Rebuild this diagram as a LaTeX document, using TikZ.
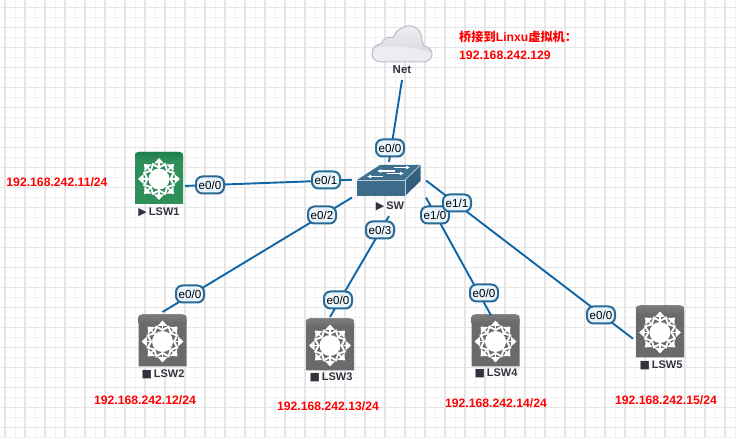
\documentclass[tikz,border=0pt]{standalone}
\usetikzlibrary{arrows.meta}
\usepackage{fontspec}
\setmainfont{Liberation Sans}
\newfontfamily\cjkfam{Noto Sans CJK SC}
\newfontfamily\glyphfam{DejaVu Sans}
\definecolor{linkblue}{HTML}{0F66A6}
\definecolor{portedge}{HTML}{2A6A96}
\definecolor{portfill}{HTML}{E9F5FD}
\definecolor{gridmaj}{HTML}{E6E6E6}
\definecolor{gridmin}{HTML}{F1F1F1}
\definecolor{ipred}{HTML}{FF0000}
\definecolor{labelink}{HTML}{333340}
\definecolor{greenbody}{HTML}{2F8F5B}
\definecolor{greentop}{HTML}{1F7F4C}
\definecolor{greybody}{HTML}{6A6A6A}
\definecolor{greytop}{HTML}{7C7C7C}
\definecolor{swtop}{HTML}{3F6F8F}
\definecolor{swfront}{HTML}{3D6C8A}
\definecolor{swside}{HTML}{335F7C}
\definecolor{swedge}{HTML}{B9CCD8}
\definecolor{cloudedge}{HTML}{BABDC8}
\definecolor{cloudtop}{HTML}{EDEEF1}
\definecolor{cloudmid}{HTML}{D3D5DB}
\definecolor{cloudlow}{HTML}{ECEDF0}
\tikzset{
  link/.style={draw=linkblue,line width=1.9pt},
  portlabel/.style={draw=portedge,line width=2pt,fill=portfill,rounded corners=6.5pt,
    minimum width=28pt,minimum height=17pt,inner sep=0pt,text=black,font=\fontsize{11.6}{12}\selectfont},
  iplabel/.style={text=ipred,inner sep=0pt,font=\fontsize{12.2}{14}\selectfont\bfseries},
  devlabel/.style={text=labelink,inner sep=0pt,font=\fontsize{11}{12}\selectfont\bfseries},
  hitbox/.style={inner sep=0pt,outer sep=0pt},
}
\newcommand{\stateon}{{\glyphfam\fontsize{11}{12}\selectfont ▶}\hspace{2pt}}
\newcommand{\stateoff}{{\glyphfam\fontsize{11}{12}\selectfont ■}\hspace{2pt}}
% #1 name, #2 cx, #3 cy, #4 dark colour, #5 light colour, #6 box width, #7 box height
\newcommand{\mlsicon}[7]{%
  \node[hitbox,minimum width=#6pt,minimum height=#7pt] (#1) at (#2,#3) {};
  \begin{scope}[shift={(#2,#3)}]
    \fill[#4] (-24,26) -- (-24,-21) .. controls (-24,-25) and (-23,-26) .. (-20,-26)
      -- (20,-26) .. controls (23,-26) and (24,-25) .. (24,-21) -- (24,26) -- cycle;
    \shade[top color=#5,bottom color=#4] (-24,-21) .. controls (-24,-25) and (-23,-26) .. (-20,-26)
      -- (20,-26) .. controls (23,-26) and (24,-25) .. (24,-21) -- (24,-17) -- (-24,-17) -- cycle;
    \begin{scope}[shift={(0,1)}]
      \fill[white] (0,0) circle (10.5);
      \foreach \a in {0,45,...,315}{
        \fill[white] (\a:21) -- ([shift={(\a:15.5)}]\a+90:5) -- ([shift={(\a:15.5)}]\a-90:5) -- cycle;
        \draw[white,line width=1.5pt] (\a:10) -- (\a:16);
        \draw[white,line width=1.9pt,line join=miter] (\a:11.5) -- (\a+22.5:16) -- (\a+45:11.5);
      }
    \end{scope}
  \end{scope}
}
\begin{document}
\begin{tikzpicture}[x=1pt,y=-1pt]
\useasboundingbox (0,0) rectangle (737,438);
\fill[white] (0,0) rectangle (737,438);
% grid
\foreach \i in {15,35,...,735} \draw[gridmin,line width=1pt] (\i,0) -- (\i,438);
\foreach \i in {17.5,37.5,...,437.5} \draw[gridmin,line width=1pt] (0,\i) -- (737,\i);
\foreach \i in {5,25,...,735} \draw[gridmaj,line width=1.2pt] (\i,0) -- (\i,438);
\foreach \i in {7.5,27.5,...,427.5} \draw[gridmaj,line width=1.2pt] (0,\i) -- (737,\i);

% cloud
\node[hitbox,minimum width=60pt,minimum height=54pt] (net) at (402,53) {};
\def\cloudpath{(381,62) .. controls (375,62) and (372,58) .. (372,53)
    .. controls (372,47) and (377,44) .. (381,44)
    .. controls (383,38) and (389,36) .. (393,38)
    .. controls (396,30) and (403,26) .. (409,26)
    .. controls (417,26) and (422,32) .. (422,40)
    .. controls (422,42) and (423,44) .. (424,46)
    .. controls (429,47) and (432,50) .. (432,54)
    .. controls (432,59) and (428,62) .. (423,62) -- cycle}
\shade[top color=cloudtop,bottom color=cloudmid] \cloudpath;
\begin{scope}
  \clip \cloudpath;
  \fill[cloudlow] (370,49) .. controls (390,44) and (415,47) .. (434,54) -- (434,64) -- (370,64) -- cycle;
\end{scope}
\draw[cloudedge,line width=1pt] \cloudpath;
\node[devlabel,font=\fontsize{11.5}{12}\selectfont\bfseries] (netlabel) at (402,70) {Net};

% switch
\node[hitbox,minimum width=74pt,minimum height=54pt] (sw) at (389,189) {};
\fill[swtop] (357,180) -- (380,165) -- (420.5,165) -- (405,180) -- cycle;
\fill[swfront] (357,180) -- (405,180) -- (405,196) -- (357,196) -- cycle;
\fill[swside] (405,180) -- (420.5,165) -- (420.5,181) -- (405,196) -- cycle;
\draw[swedge,line width=0.8pt] (357,180) -- (405,180) -- (405,196);
\draw[swedge,line width=0.8pt] (405,180) -- (420.5,165);
\foreach \xa/\ya/\xb/\yb in {394/167.5/410/167.5, 395/171/377/171, 387/173.5/404/173.5, 383/176.5/367/176.5}
  \draw[white,line width=1.2pt,-{Latex[length=4pt,width=4pt]}] (\xa,\ya) -- (\xb,\yb);
\node[devlabel] (swlabel) at (390,206) {\stateon SW};

% devices
\mlsicon{lsw1}{159}{178}{greenbody}{greentop}{52}{56}
\mlsicon{lsw2}{162.5}{340.5}{greybody}{greytop}{53}{57}
\mlsicon{lsw3}{330}{344.5}{greybody}{greytop}{53}{55}
\mlsicon{lsw4}{495.5}{340.5}{greybody}{greytop}{53}{50}
\mlsicon{lsw5}{660}{331.5}{greybody}{greytop}{54}{57}
\node[devlabel] (lsw1label) at (159,212) {\stateon LSW1};
\node[devlabel] (lsw2label) at (163,374) {\stateoff LSW2};
\node[devlabel] (lsw3label) at (331,377) {\stateoff LSW3};
\node[devlabel] (lsw4label) at (496,373) {\stateoff LSW4};
\node[devlabel] (lsw5label) at (661,365) {\stateoff LSW5};

% links
\draw[link] (net.south) -- (sw.north);
\draw[link] (lsw1.-17) -- (sw.166.3);
\draw[link] (lsw2.north) -- (sw.193.7);
\draw[link] (lsw3.north) -- (sw.south);
\draw[link] (lsw4.100) -- (sw.-13.7);
\draw[link] (lsw5.195.5) -- (sw.13.7);

% port labels
\node[portlabel] (p1) at (390,148) {e0/0};
\node[portlabel] (p2) at (326,180) {e0/1};
\node[portlabel] (p3) at (210,185) {e0/0};
\node[portlabel] (p4) at (322,215) {e0/2};
\node[portlabel] (p5) at (190,294) {e0/0};
\node[portlabel] (p6) at (380,230) {e0/3};
\node[portlabel] (p7) at (338,300) {e0/0};
\node[portlabel] (p8) at (435,215) {e1/0};
\node[portlabel] (p9) at (484,293) {e0/0};
\node[portlabel] (p10) at (457,203) {e1/1};
\node[portlabel] (p11) at (601,315) {e0/0};

% ip labels
\node[iplabel,anchor=west] (ipnet1) at (459,37) {{\cjkfam 桥接到}Linxu{\cjkfam 虚拟机：}};
\node[iplabel,anchor=west] (ipnet2) at (459,55) {192.168.242.129};
\node[iplabel] (ip1) at (57,182) {192.168.242.11/24};
\node[iplabel] (ip2) at (145,400) {192.168.242.12/24};
\node[iplabel] (ip3) at (328,406) {192.168.242.13/24};
\node[iplabel] (ip4) at (496,403) {192.168.242.14/24};
\node[iplabel] (ip5) at (666,400) {192.168.242.15/24};
\end{tikzpicture}
\end{document}
